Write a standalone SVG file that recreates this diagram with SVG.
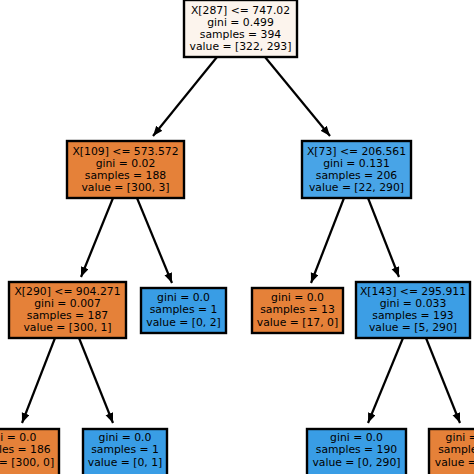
<svg xmlns="http://www.w3.org/2000/svg" width="474" height="474" viewBox="0 0 474 474">
<defs>
<style>
rect{stroke:#000;stroke-width:2.4}
text{font-family:"DejaVu Sans",sans-serif;font-size:10.8px;fill:#000;text-anchor:middle}
.or{fill:#e58139}.bl{fill:#399de5}
.e{stroke:#000;stroke-width:2.2;fill:none;marker-end:url(#ah)}
</style>
<marker id="ah" markerUnits="userSpaceOnUse" markerWidth="12" markerHeight="10" refX="10" refY="4" orient="auto">
<path d="M0,0 L10,4 L0,8 Z" fill="#000"/>
</marker>
</defs>
<rect width="474" height="474" fill="#fff" style="stroke:none"/>
<g id="edges">
<line class="e" x1="217" y1="57" x2="153" y2="136"/>
<line class="e" x1="265" y1="57" x2="330" y2="136"/>
<line class="e" x1="113" y1="198" x2="81" y2="277"/>
<line class="e" x1="137" y1="198" x2="172" y2="283"/>
<line class="e" x1="344" y1="198" x2="311" y2="283"/>
<line class="e" x1="368" y1="198" x2="399" y2="277"/>
<line class="e" x1="55" y1="338" x2="22" y2="423"/>
<line class="e" x1="79" y1="338" x2="113" y2="423"/>
<line class="e" x1="403" y1="338" x2="368" y2="423"/>
<line class="e" x1="426" y1="338" x2="460" y2="423"/>
</g>
<g id="n0">
<rect x="184" y="0" width="113" height="57" fill="#fcf4ed"/>
<text x="240.5" y="14">X[287] &lt;= 747.02</text>
<text x="240.5" y="26">gini = 0.499</text>
<text x="240.5" y="38">samples = 394</text>
<text x="240.5" y="50">value = [322, 293]</text>
</g>
<g id="n1">
<rect class="or" x="67" y="141" width="117" height="57"/>
<text x="125.5" y="155">X[109] &lt;= 573.572</text>
<text x="125.5" y="167">gini = 0.02</text>
<text x="125.5" y="179">samples = 188</text>
<text x="125.5" y="191">value = [300, 3]</text>
</g>
<g id="n2">
<rect x="302" y="141" width="109" height="57" fill="#48a4e7"/>
<text x="356.5" y="155">X[73] &lt;= 206.561</text>
<text x="356.5" y="167">gini = 0.131</text>
<text x="356.5" y="179">samples = 206</text>
<text x="356.5" y="191">value = [22, 290]</text>
</g>
<g id="n3">
<rect class="or" x="9" y="282" width="117" height="56"/>
<text x="67.5" y="295">X[290] &lt;= 904.271</text>
<text x="67.5" y="307">gini = 0.007</text>
<text x="67.5" y="319">samples = 187</text>
<text x="67.5" y="331">value = [300, 1]</text>
</g>
<g id="n4">
<rect class="bl" x="141" y="288" width="85" height="45"/>
<text x="183.5" y="301">gini = 0.0</text>
<text x="183.5" y="313">samples = 1</text>
<text x="183.5" y="326">value = [0, 2]</text>
</g>
<g id="n5">
<rect class="or" x="252" y="288" width="91" height="45"/>
<text x="297.5" y="301">gini = 0.0</text>
<text x="297.5" y="313">samples = 13</text>
<text x="297.5" y="326">value = [17, 0]</text>
</g>
<g id="n6">
<rect x="356" y="282" width="114" height="56" fill="#3c9ee5"/>
<text x="413" y="295">X[143] &lt;= 295.911</text>
<text x="413" y="307">gini = 0.033</text>
<text x="413" y="319">samples = 193</text>
<text x="413" y="331">value = [5, 290]</text>
</g>
<g id="n7">
<rect class="or" x="-40" y="429" width="99" height="50"/>
<text x="10" y="441">gini = 0.0</text>
<text x="10" y="453">samples = 186</text>
<text x="10" y="466">value = [300, 0]</text>
</g>
<g id="n8">
<rect class="bl" x="83" y="429" width="84" height="50"/>
<text x="125" y="441">gini = 0.0</text>
<text x="125" y="453">samples = 1</text>
<text x="125" y="466">value = [0, 1]</text>
</g>
<g id="n9">
<rect class="bl" x="307" y="429" width="99" height="50"/>
<text x="356.5" y="441">gini = 0.0</text>
<text x="356.5" y="453">samples = 190</text>
<text x="356.5" y="466">value = [0, 290]</text>
</g>
<g id="n10">
<rect class="or" x="429" y="429" width="86" height="50"/>
<text x="472" y="441">gini = 0.0</text>
<text x="472" y="453">samples = 3</text>
<text x="472" y="466">value = [5, 0]</text>
</g>
</svg>
